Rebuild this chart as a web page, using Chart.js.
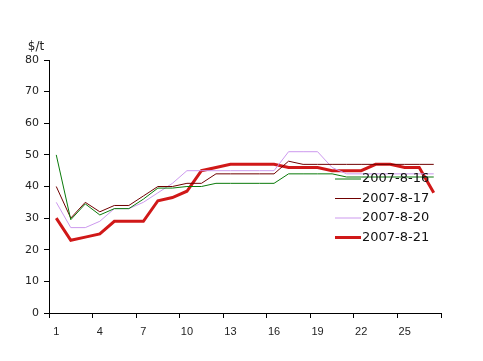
<!DOCTYPE html>
<html>
<head>
<meta charset="utf-8">
<script src="https://cdn.jsdelivr.net/npm/chart.js@4"></script>
<style>
html,body{margin:0;padding:0;background:#fff;}
#wrap{width:483px;height:361px;}
</style>
</head>
<body>
<div id="wrap"><canvas id="c" width="483" height="361"></canvas></div>
<script>
// ---- data ----
const categories = ['1','2','3','4','5','6','7','8','9','10','11','12','13','14','15','16','17','18','19','20','21','22','23','24','25','26','27'];
const seriesNames = ['2007-8-16','2007-8-17','2007-8-20','2007-8-21'];
const s0816 = [50,29.5,34.5,31,33,33,36,39.5,39.5,40,40,41,41,41,41,41,44,44,44,44,43,43,43,43,43,43,43];
const s0817 = [40,30,35,32,34,34,37,40,40,41,41,44,44,44,44,44,48,47,47,47,47,47,47,47,47,47,47];
const s0820 = [35,27,27,29,33,33,35,38,41,45,45,45,45,45,45,45,51,51,51,46,44,44,44,44,44,44,44];
const s0821 = [30,23,24,25,29,29,29,35.5,36.5,38.5,45,46,47,47,47,47,46,46,46,45,45,45,47,47,46,46,38];
const yTicks = [0,10,20,30,40,50,60,70,80];
const yUnit = '$/t';

const colors = ['#0a7a0a','#700000','#cc99ee','#d01818'];
const widths = [1,1,1,3];
const values = [s0816,s0817,s0820,s0821];

const legendPlugin = {
  id: 'customLegend',
  afterDatasetsDraw(chart) {
    const ctx = chart.ctx, a = chart.chartArea;
    ctx.save();
    chart.data.datasets.forEach((ds, i) => {
      const y = a.top + 119 + i * 19.5;
      const x0 = a.left + 286;
      ctx.strokeStyle = ds.borderColor;
      ctx.lineWidth = ds.borderWidth;
      ctx.beginPath();
      ctx.moveTo(x0, y);
      ctx.lineTo(x0 + 26, y);
      ctx.stroke();
      ctx.fillStyle = '#111';
      ctx.font = '13px "DejaVu Sans"';
      ctx.textBaseline = 'middle';
      ctx.textAlign = 'left';
      ctx.fillText(ds.label, x0 + 27, y);
    });
    // unit label
    ctx.fillStyle = '#222';
    ctx.font = '12px "DejaVu Sans"';
    ctx.textAlign = 'center';
    ctx.textBaseline = 'middle';
    ctx.fillText(yUnit, a.left - 13, a.top - 13);
    ctx.restore();
  }
};

new Chart(document.getElementById('c'), {
  type: 'line',
  data: {
    labels: categories,
    datasets: seriesNames.map((n, i) => ({
      label: n,
      data: values[i],
      borderColor: colors[i],
      backgroundColor: colors[i],
      borderWidth: widths[i],
      pointRadius: 0,
      tension: 0,
      fill: false
    }))
  },
  options: {
    responsive: false,
    animation: false,
    layout: { padding: { top: 60, right: 42, left: 0, bottom: 0 } },
    plugins: { legend: { display: false }, tooltip: { enabled: false } },
    scales: {
      x: {
        offset: true,
        afterFit(s) { s.height = 48; },
        border: { color: '#000', width: 1 },
        grid: {
          offset: true,
          drawOnChartArea: false,
          drawTicks: true,
          tickLength: 5,
          color: (c) => (c.index === undefined || c.index % 3 === 0) ? '#000' : 'rgba(0,0,0,0)'
        },
        ticks: {
          autoSkip: false,
          maxRotation: 0,
          padding: 7,
          color: '#222',
          font: { family: 'Liberation Sans', size: 11 },
          callback: function(v, i) { return i % 3 === 0 ? categories[i] : ''; }
        }
      },
      y: {
        min: 0, max: 80,
        afterFit(s) { s.width = 49; },
        afterBuildTicks(s) { s.ticks = yTicks.map(v => ({ value: v })); },
        border: { color: '#000', width: 1 },
        grid: { drawOnChartArea: false, drawTicks: true, tickLength: 5, color: '#000' },
        ticks: {
          padding: 5,
          color: '#222',
          font: { family: 'DejaVu Sans', size: 11 }
        }
      }
    }
  },
  plugins: [legendPlugin]
});
</script>
</body>
</html>
